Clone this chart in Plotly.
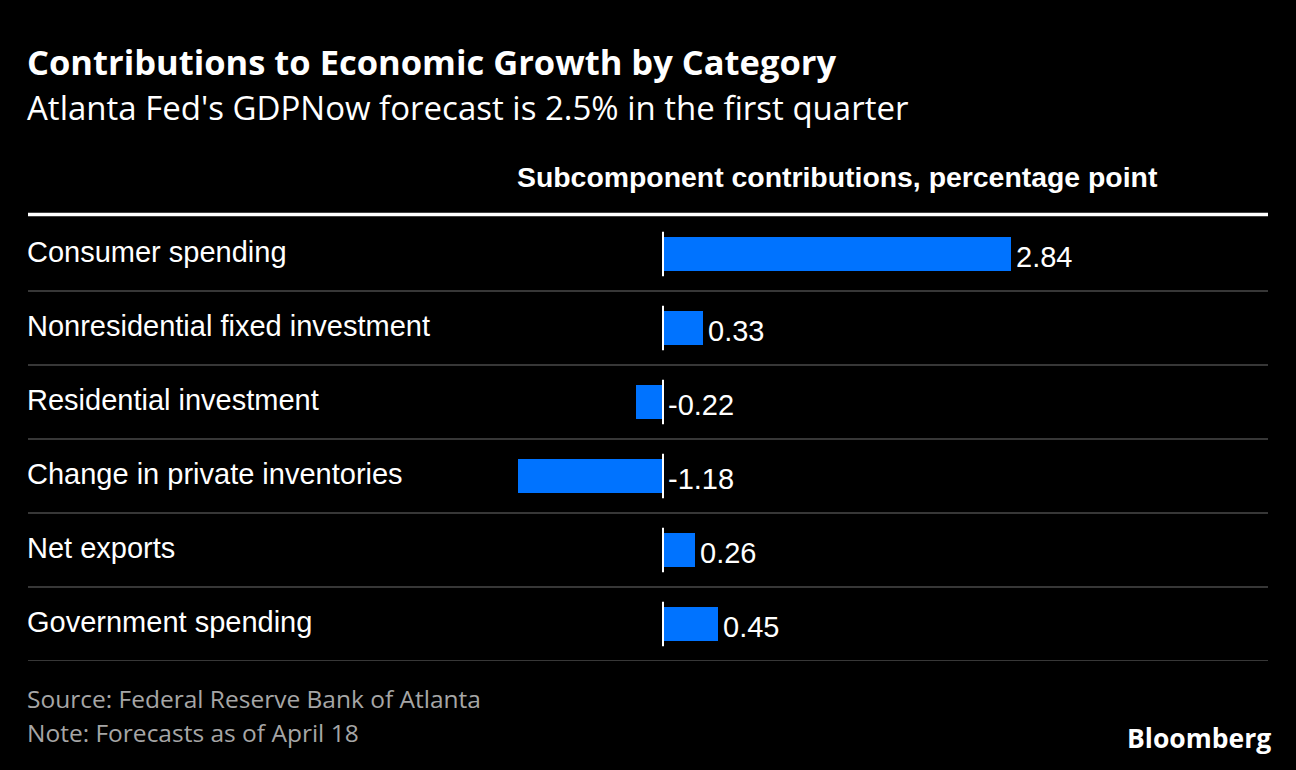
import plotly.graph_objects as go

categories = ["Consumer spending", "Nonresidential fixed investment", "Residential investment",
              "Change in private inventories", "Net exports", "Government spending"]
values = [2.84, 0.33, -0.22, -1.18, 0.26, 0.45]
value_labels = ["2.84", "0.33", "-0.22", "-1.18", "0.26", "0.45"]

title = "Contributions to Economic Growth by Category"
subtitle = "Atlanta Fed's GDPNow forecast is 2.5% in the first quarter"
header = "Subcomponent contributions, percentage point"
source = "Source: Federal Reserve Bank of Atlanta"
note = "Note: Forecasts as of April 18"

W, H = 1296, 770
ml, mr, mt, mb = 28, 28, 217, 109
PH = H - mt - mb
PW = W - ml - mr
zero_px = 663
px_per_unit = 122.5
x0 = (ml - zero_px) / px_per_unit
x1 = (W - mr - zero_px) / px_per_unit

ypos = list(range(len(categories)))

fig = go.Figure(go.Bar(
    x=values, y=ypos, orientation="h", width=0.47,
    marker=dict(color="#0073FF", line=dict(width=0)),
    hoverinfo="skip", showlegend=False,
))

shapes = []
shapes.append(dict(type="line", xref="paper", yref="paper", x0=0, x1=1,
                   y0=1 + 2.5 / PH, y1=1 + 2.5 / PH, line=dict(color="#FFFFFF", width=3.5)))
for i in ypos:
    shapes.append(dict(type="line", xref="paper", yref="y", x0=0, x1=1,
                       y0=i + 0.5, y1=i + 0.5, line=dict(color="#4A4A4A", width=1.5)))
    shapes.append(dict(type="line", xref="x", yref="y", x0=0, x1=0,
                       y0=i - 0.3, y1=i + 0.3, line=dict(color="#FFFFFF", width=2)))

LAB = "Liberation Sans, Arial"
SANS = "Open Sans"
annotations = []
for i, (c, v, lab) in enumerate(zip(categories, values, value_labels)):
    annotations.append(dict(text=c, xref="paper", yref="y", x=0, y=i, xanchor="left",
                            yanchor="middle", xshift=-3, yshift=2, showarrow=False,
                            font=dict(family=LAB, size=29, color="#FFFFFF")))
    annotations.append(dict(text=lab, xref="x", yref="y", x=max(v, 0), y=i, xanchor="left",
                            yanchor="middle", xshift=3, yshift=-3, showarrow=False,
                            font=dict(family=LAB, size=29, color="#FFFFFF")))

def py(pix):
    return 1 + (mt - pix) / PH

annotations += [
    dict(text="<b>" + title + "</b>", xref="paper", yref="paper", x=0, xshift=-3,
         y=py(61.5), xanchor="left", yanchor="middle", showarrow=False,
         font=dict(family=SANS, size=34.5, color="#FFFFFF")),
    dict(text=subtitle, xref="paper", yref="paper", x=0, xshift=-3,
         y=py(107), xanchor="left", yanchor="middle", showarrow=False,
         font=dict(family=SANS, size=33, color="#FFFFFF")),
    dict(text="<b>" + header + "</b>", xref="paper", yref="paper", x=(837 - ml) / PW,
         y=py(177), xanchor="center", yanchor="middle", showarrow=False,
         font=dict(family=LAB, size=28.4, color="#FFFFFF")),
    dict(text=source, xref="paper", yref="paper", x=0, xshift=-3,
         y=py(698), xanchor="left", yanchor="middle", showarrow=False,
         font=dict(family=SANS, size=24.5, color="#A6A6A6")),
    dict(text=note, xref="paper", yref="paper", x=0, xshift=-3,
         y=py(732), xanchor="left", yanchor="middle", showarrow=False,
         font=dict(family=SANS, size=24.5, color="#A6A6A6")),
    dict(text="<b>Bloomberg</b>", xref="paper", yref="paper", x=(1273 - ml) / PW,
         y=py(738), xanchor="right", yanchor="middle", showarrow=False,
         font=dict(family=SANS, size=26.5, color="#FFFFFF")),
]

fig.update_layout(
    width=W, height=H,
    margin=dict(l=ml, r=mr, t=mt, b=mb, pad=0),
    paper_bgcolor="#000000", plot_bgcolor="#000000",
    xaxis=dict(range=[x0, x1], visible=False, fixedrange=True),
    yaxis=dict(range=[len(categories) - 0.5, -0.5], visible=False, fixedrange=True),
    shapes=shapes, annotations=annotations, bargap=0,
)

fig.write_html("out.html", config={"displayModeBar": False})
